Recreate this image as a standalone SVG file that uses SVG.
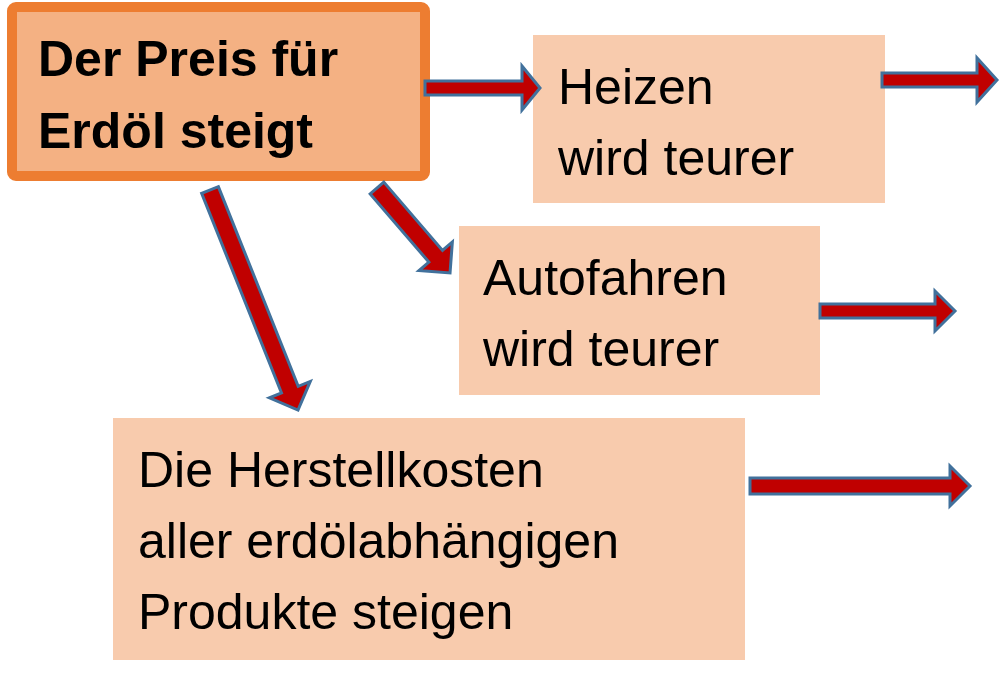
<svg xmlns="http://www.w3.org/2000/svg" width="1000" height="682" viewBox="0 0 1000 682">
<style>
.box{fill:#F8CBAD}
.t{font-family:"Liberation Sans",Arial,sans-serif;font-size:50px;fill:#000}
.b{font-weight:bold}
.arr{fill:#C00000;stroke:#41719C;stroke-width:3;stroke-linejoin:miter}
</style>
<rect width="1000" height="682" fill="#fff"/>
<g id="main">
<rect x="12" y="7" width="413" height="169" rx="4" fill="#F4B183" stroke="#ED7D31" stroke-width="10"/>
<text class="t b" x="38" y="76">Der Preis für</text>
<text class="t b" x="38" y="148">Erdöl steigt</text>
</g>
<g id="heizen">
<rect class="box" x="533" y="35" width="352" height="168"/>
<text class="t" x="558" y="104">Heizen</text>
<text class="t" x="558" y="175">wird teurer</text>
</g>
<g id="autofahren">
<rect class="box" x="459" y="226" width="361" height="169"/>
<text class="t" x="483" y="295">Autofahren</text>
<text class="t" x="483" y="366">wird teurer</text>
</g>
<g id="herstellkosten">
<rect class="box" x="113" y="418" width="632" height="242"/>
<text class="t" x="138" y="487">Die Herstellkosten</text>
<text class="t" x="138" y="558">aller erdölabhängigen</text>
<text class="t" x="138" y="629">Produkte steigen</text>
</g>
<g id="connectors">
<path class="arr" transform="translate(425,88)" d="M0,-7H97V-22L115,0L97,22V7H0Z"/>
<path class="arr" transform="translate(882,80)" d="M0,-7H95V-22L115,0L95,22V7H0Z"/>
<path class="arr" transform="translate(820,311)" d="M0,-7H115V-20L135,0L115,20V7H0Z"/>
<path class="arr" transform="translate(750,486)" d="M0,-8H200V-20L220,0L200,20V8H0Z"/>
<path class="arr" transform="translate(377,188) rotate(49.3)" d="M0,-9H90V-22L112,0L90,22V9H0Z"/>
<path class="arr" transform="translate(210,190) rotate(68.2)" d="M0,-9H215V-22L237,0L215,22V9H0Z"/>
</g>
</svg>
